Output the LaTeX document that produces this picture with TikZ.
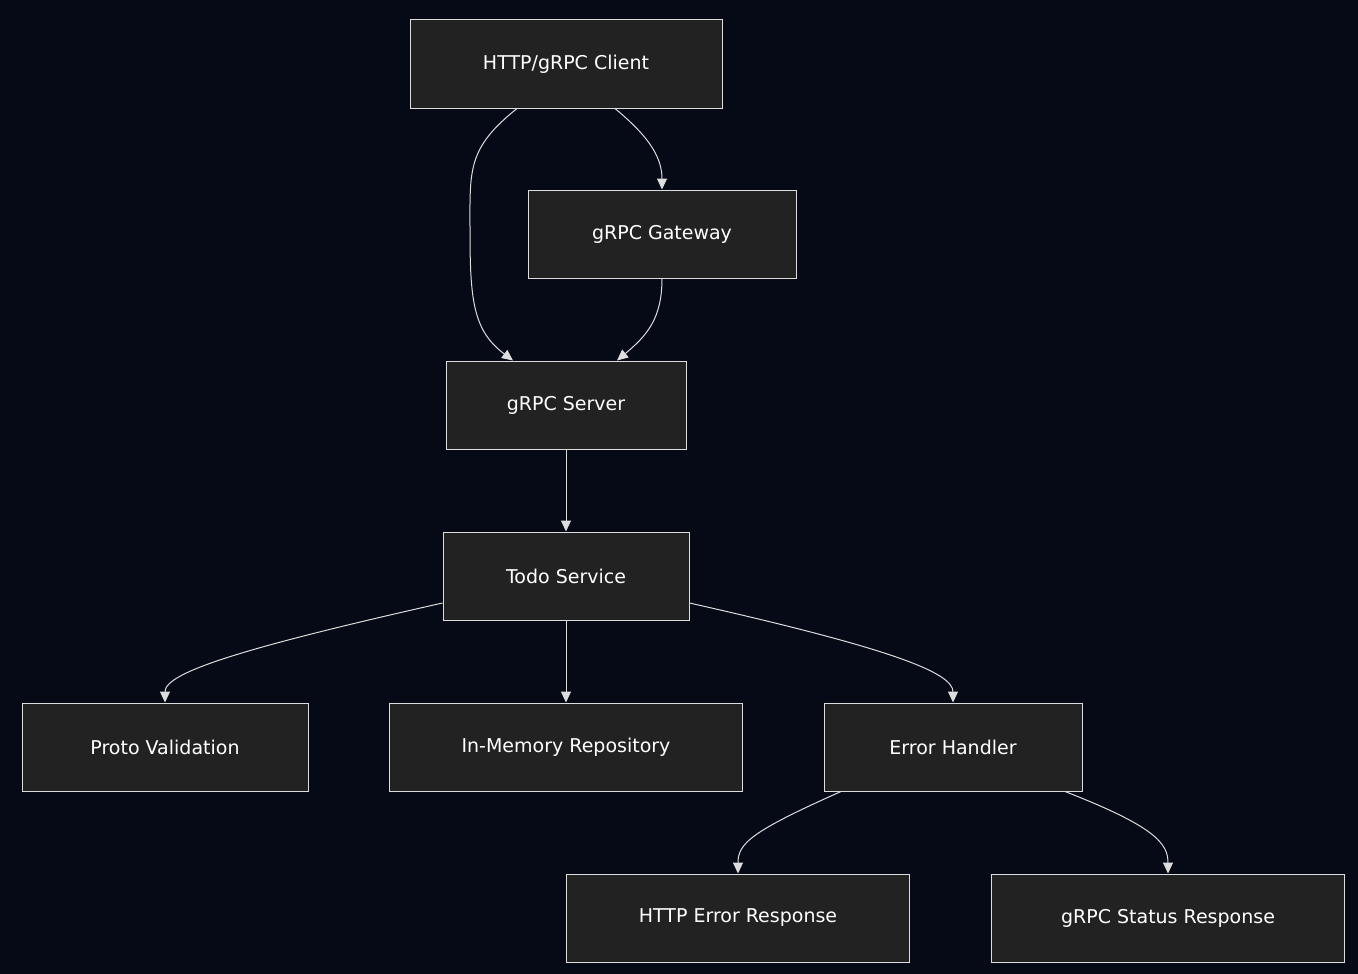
\documentclass[tikz,border=0pt]{standalone}
\usepackage{fontspec}
\setmainfont{DejaVu Sans}
\usetikzlibrary{arrows.meta, positioning}
\definecolor{bgdark}{HTML}{050A16}
\definecolor{boxfill}{HTML}{222222}
\definecolor{edgegray}{HTML}{DDDDDD}
\tikzset{box/.style = {draw=edgegray, fill=boxfill, text=white,
            line width=1pt, minimum height=88pt,
            font=\fontsize{19}{22}\selectfont},
    flow/.style = {draw=edgegray, line width=1pt,
            -{Triangle[length=11pt, width=10pt]}}}
\begin{document}
\begin{tikzpicture}[x=1pt, y=-1pt]
\fill[bgdark] (0,0) rectangle (1358,974);
\useasboundingbox (0,0) rectangle (1358,974);
\node[box, minimum width=312pt] (client)  at (566,64)  {HTTP/gRPC Client};
\node[box, minimum width=268pt] (gateway) at (662,234) {gRPC Gateway};
\node[box, minimum width=240pt] (server)  at (566,405) {gRPC Server};
\node[box, minimum width=246pt] (todo)    at (566,576) {Todo Service};
\node[box, minimum width=286pt] (proto)   at (165,747) {Proto Validation};
\node[box, minimum width=353pt] (repo)    at (566,747) {In-Memory Repository};
\node[box, minimum width=258pt] (errh)    at (953,747) {Error Handler};
\node[box, minimum width=343pt] (httperr) at (738,918) {HTTP Error Response};
\node[box, minimum width=353pt] (status)  at (1168,918) {gRPC Status Response};
% client side
\draw[flow] ([xshift=-49pt]client.south) .. controls +(-50,40) and +(0,-60) .. (470,230)
  .. controls +(0,70) and +(-40,-30) .. ([xshift=-53pt]server.north);
\draw[flow] ([xshift=49pt]client.south) .. controls +(30,25) and +(0,-35) .. (gateway.north);
\draw[flow] (gateway.south) .. controls +(0,40) and +(30,-25) .. ([xshift=51pt]server.north);
\draw[flow] (server) -- (todo);
% service fan-out
\draw[flow] ([yshift=-27pt]todo.west) .. controls +(-200,45) and +(0,-30) .. (proto.north);
\draw[flow] (todo) -- (repo);
\draw[flow] ([yshift=-27pt]todo.east) .. controls +(200,45) and +(0,-30) .. (errh.north);
\draw[flow] ([xshift=-112pt]errh.south) .. controls +(-90,40) and +(0,-30) .. (httperr.north);
\draw[flow] ([xshift=112pt]errh.south) .. controls +(90,35) and +(0,-30) .. (status.north);
\end{tikzpicture}
\end{document}
